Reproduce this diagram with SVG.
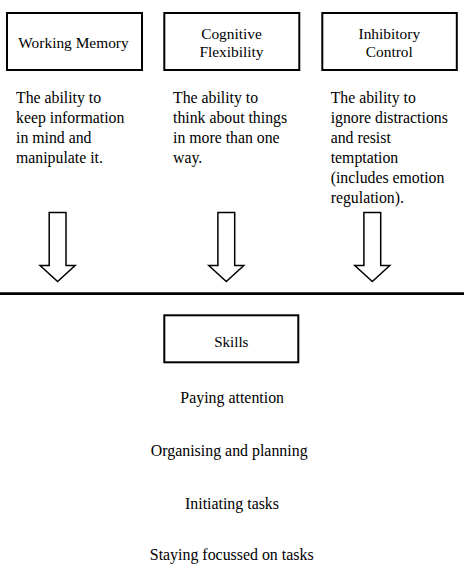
<svg xmlns="http://www.w3.org/2000/svg" xmlns:xlink="http://www.w3.org/1999/xlink" width="464" height="574" viewBox="0 0 464 574">
<style>
.box{fill:#fff;stroke:#000;stroke-width:2}
.t{font-family:"Liberation Serif","Times New Roman",serif;fill:#000}
.title{font-size:15.4px;text-anchor:middle}
.desc{font-size:15.8px}
.skill{font-size:15.9px;text-anchor:middle}
.arrow{fill:#fff;stroke:#000;stroke-width:1.5;stroke-linejoin:miter}
</style>
<defs>
<path id="arr" d="M-8.4,212.5 H8.4 V265.5 H17.5 L0,281.5 L-17.5,265.5 H-8.4 Z"/>
</defs>
<rect width="464" height="574" fill="#fff"/>
<g id="working-memory">
<rect class="box" x="7" y="13" width="135" height="57"/>
<text class="t title" x="73.5" y="48.3">Working Memory</text>
<text class="t desc" x="16" y="102.5"><tspan x="16">The ability to</tspan><tspan x="16" dy="20.1">keep information</tspan><tspan x="16" dy="20.1">in mind and</tspan><tspan x="16" dy="20.1">manipulate it.</tspan></text>
</g>
<g id="cognitive-flexibility">
<rect class="box" x="164.3" y="13" width="135" height="57"/>
<text class="t title" x="231.5" y="38.8">Cognitive</text>
<text class="t title" x="231.5" y="57.3">Flexibility</text>
<text class="t desc" x="173" y="102.5"><tspan x="173">The ability to</tspan><tspan x="173" dy="20.1">think about things</tspan><tspan x="173" dy="20.1">in more than one</tspan><tspan x="173" dy="20.1">way.</tspan></text>
</g>
<g id="inhibitory-control">
<rect class="box" x="322.3" y="13" width="134.5" height="57"/>
<text class="t title" x="389.3" y="38.8">Inhibitory</text>
<text class="t title" x="389.3" y="57.3">Control</text>
<text class="t desc" x="330.7" y="102.5"><tspan x="330.7">The ability to</tspan><tspan x="330.7" dy="20.1">ignore distractions</tspan><tspan x="330.7" dy="20.1">and resist</tspan><tspan x="330.7" dy="20.1">temptation</tspan><tspan x="330.7" dy="20.1">(includes emotion</tspan><tspan x="330.7" dy="20.1">regulation).</tspan></text>
</g>
<g id="connectors">
<use xlink:href="#arr" href="#arr" class="arrow" transform="translate(57.6,0)"/>
<use xlink:href="#arr" href="#arr" class="arrow" transform="translate(226.3,0)"/>
<use xlink:href="#arr" href="#arr" class="arrow" transform="translate(372.3,0)"/>
<line x1="0" y1="293.6" x2="464" y2="293.6" stroke="#000" stroke-width="2.6"/>
</g>
<g id="skills">
<rect class="box" x="164.3" y="315.3" width="134" height="47"/>
<text class="t title" x="231.3" y="346.7" style="font-size:15px">Skills</text>
</g>
<g id="skill-list">
<text class="t skill" x="232.2" y="403.3">Paying attention</text>
<text class="t skill" x="229.2" y="456">Organising and planning</text>
<text class="t skill" x="232" y="509">Initiating tasks</text>
<text class="t skill" x="231.7" y="560">Staying focussed on tasks</text>
</g>
</svg>
